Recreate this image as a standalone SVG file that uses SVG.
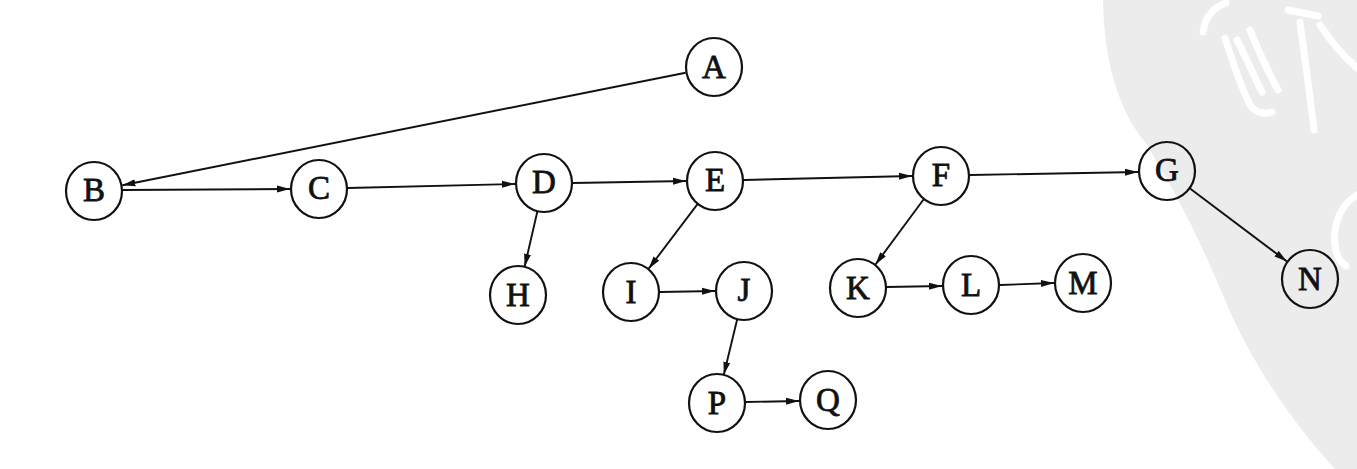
<svg xmlns="http://www.w3.org/2000/svg" width="1357" height="469" viewBox="0 0 1357 469">
<style>
.node ellipse{fill:none;stroke:#111;stroke-width:2.2}
.node text{font-family:"Liberation Serif","Times New Roman",serif;font-size:33px;fill:#111;stroke:#111;stroke-width:0.8;text-anchor:middle}
.edge{stroke:#111;stroke-width:1.9;fill:none;marker-end:url(#arr)}
.wm{fill:none;stroke:#fff;stroke-width:7;stroke-linecap:round;stroke-linejoin:round}
</style>
<defs>
<marker id="arr" markerUnits="userSpaceOnUse" markerWidth="15" markerHeight="10" refX="13" refY="4" orient="auto">
<path d="M0,0.5 L13,4 L0,7.5 Z" fill="#111"/>
</marker>
</defs>
<rect width="1357" height="469" fill="#fff"/>
<g id="watermark">
<path d="M1103,0 C1104,60 1118,110 1145,142 C1175,190 1200,240 1225,300 C1250,360 1290,420 1335,469 L1357,469 L1357,0 Z" fill="#ececec"/>
<path class="wm" d="M1203,32 C1205,18 1212,8 1226,3"/>
<path class="wm" d="M1225,38 C1232,60 1240,85 1250,105 C1255,112 1262,115 1272,112"/>
<path class="wm" d="M1237,40 C1245,55 1252,72 1262,92"/>
<path class="wm" d="M1250,30 C1258,50 1266,68 1278,90"/>
<path class="wm" d="M1288,10 L1318,16"/>
<path class="wm" d="M1300,22 C1305,60 1310,95 1314,130"/>
<path class="wm" d="M1320,25 C1330,40 1342,55 1357,68"/>
<path class="wm" d="M1357,195 C1340,205 1333,225 1335,245 C1336,255 1340,262 1346,266"/>
</g>
<g id="connectors">
<line class="edge" x1="685.6" y1="72.7" x2="122.4" y2="185.3"/>
<line class="edge" x1="123" y1="190" x2="290" y2="189"/>
<line class="edge" x1="348" y1="188" x2="515" y2="184"/>
<line class="edge" x1="573" y1="183" x2="686" y2="181"/>
<line class="edge" x1="744" y1="180" x2="912" y2="176"/>
<line class="edge" x1="970" y1="175" x2="1138" y2="172"/>
<line class="edge" x1="1190" y1="188.5" x2="1287" y2="261.5"/>
<line class="edge" x1="537.4" y1="211.2" x2="524.6" y2="266.8"/>
<line class="edge" x1="697.5" y1="204.1" x2="648.5" y2="268.9"/>
<line class="edge" x1="660" y1="292" x2="715" y2="291"/>
<line class="edge" x1="737.2" y1="319.2" x2="723.8" y2="374.8"/>
<line class="edge" x1="746" y1="402" x2="799" y2="401"/>
<line class="edge" x1="923.7" y1="199.3" x2="875.3" y2="264.7"/>
<line class="edge" x1="887" y1="287" x2="942" y2="286"/>
<line class="edge" x1="1000" y1="285" x2="1054" y2="283"/>
</g>
<g id="node-A" class="node"><ellipse cx="714" cy="67" rx="28" ry="29"/><text x="714" y="78">A</text></g>
<g id="node-B" class="node"><ellipse cx="94" cy="191" rx="28" ry="29"/><text x="94" y="201">B</text></g>
<g id="node-C" class="node"><ellipse cx="319" cy="189" rx="28" ry="29"/><text x="319" y="199">C</text></g>
<g id="node-D" class="node"><ellipse cx="544" cy="183" rx="28" ry="29"/><text x="544" y="193">D</text></g>
<g id="node-E" class="node"><ellipse cx="715" cy="181" rx="28" ry="29"/><text x="715" y="191">E</text></g>
<g id="node-F" class="node"><ellipse cx="941" cy="176" rx="28" ry="29"/><text x="941" y="186">F</text></g>
<g id="node-G" class="node"><ellipse cx="1167" cy="171" rx="28" ry="29"/><text x="1167" y="181">G</text></g>
<g id="node-H" class="node"><ellipse cx="518" cy="295" rx="28" ry="29"/><text x="518" y="306">H</text></g>
<g id="node-I" class="node"><ellipse cx="631" cy="292" rx="28" ry="29"/><text x="631" y="303">I</text></g>
<g id="node-J" class="node"><ellipse cx="744" cy="291" rx="28" ry="29"/><text x="744" y="301">J</text></g>
<g id="node-K" class="node"><ellipse cx="858" cy="288" rx="28" ry="29"/><text x="858" y="299">K</text></g>
<g id="node-L" class="node"><ellipse cx="971" cy="285" rx="28" ry="29"/><text x="971" y="296">L</text></g>
<g id="node-M" class="node"><ellipse cx="1083" cy="283" rx="28" ry="29"/><text x="1083" y="294">M</text></g>
<g id="node-N" class="node"><ellipse cx="1310" cy="279" rx="28" ry="29"/><text x="1310" y="290">N</text></g>
<g id="node-P" class="node"><ellipse cx="717" cy="403" rx="28" ry="29"/><text x="717" y="414">P</text></g>
<g id="node-Q" class="node"><ellipse cx="828" cy="400" rx="28" ry="29"/><text x="828" y="411">Q</text></g>
</svg>
